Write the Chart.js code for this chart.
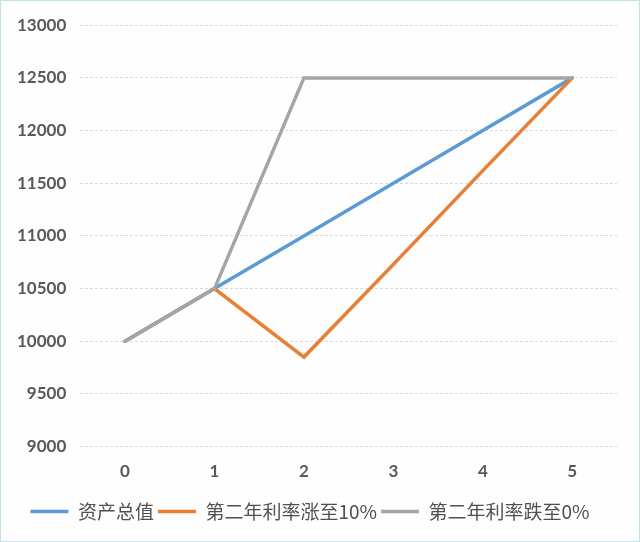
<!DOCTYPE html>
<html>
<head>
<meta charset="utf-8">
<script src="https://cdn.jsdelivr.net/npm/chart.js@4/dist/chart.umd.min.js"></script>
<style>
  html, body { margin: 0; padding: 0; background: #fff; }
  #wrap { width: 638px; height: 540px; border: 1px solid #bfe3e6; background: #fefefe; }
</style>
</head>
<body>
<div id="wrap"><canvas id="chart" width="638" height="540"></canvas></div>
<script>
// 年份
const years = ['0', '1', '2', '3', '4', '5'];
// 资产总值
const zongZhi = [10000, 10500, 11000, 11500, 12000, 12500];
// 第二年利率涨至10%
const zhang10 = [10000, 10500, 9850, 10730, 11620, 12500];
// 第二年利率跌至0%
const die0 = [10000, 10500, 12500, 12500, 12500, 12500];

const tickFont = { family: 'Lato, "Open Sans", sans-serif', size: 17, weight: 'bold' };

new Chart(document.getElementById('chart'), {
    type: 'line',
    data: {
        labels: years,
        datasets: [
            { label: '资产总值', data: zongZhi, borderColor: '#5b9bd5', backgroundColor: '#5b9bd5', borderWidth: 3.5, order: 2 },
            { label: '第二年利率涨至10%', data: zhang10, borderColor: '#ed7d31', backgroundColor: '#ed7d31', borderWidth: 3.5, order: 1 },
            { label: '第二年利率跌至0%', data: die0, borderColor: '#a5a5a5', backgroundColor: '#a5a5a5', borderWidth: 3.5, order: 0 }
        ]
    },
    options: {
        responsive: false,
        animation: false,
        elements: {
            line: { tension: 0, borderCapStyle: 'round' },
            point: { radius: 0 }
        },
        layout: { padding: { left: 2, right: 22, top: 0, bottom: 10 } },
        scales: {
            x: {
                offset: true,
                grid: { display: false },
                border: { display: false },
                ticks: { color: '#595959', font: tickFont, padding: 7 },
                afterFit: scale => { scale.height += 9; }
            },
            y: {
                min: 9000,
                max: 13000,
                ticks: {
                    stepSize: 500,
                    color: '#595959',
                    font: tickFont,
                    padding: 14,
                    callback: v => String(v)
                },
                grid: { color: '#d5dde3', drawTicks: false },
                border: { display: false, dash: [3, 2] }
            }
        },
        plugins: {
            legend: {
                position: 'bottom',
                labels: {
                    usePointStyle: true,
                    pointStyle: 'line',
                    pointStyleWidth: 38,
                    color: '#505050',
                    padding: 4,
                    font: { family: '"Noto Sans CJK SC", sans-serif', size: 19 },
                    sort: (a, b) => a.datasetIndex - b.datasetIndex
                }
            },
            tooltip: { enabled: false }
        }
    }
});
</script>
</body>
</html>
